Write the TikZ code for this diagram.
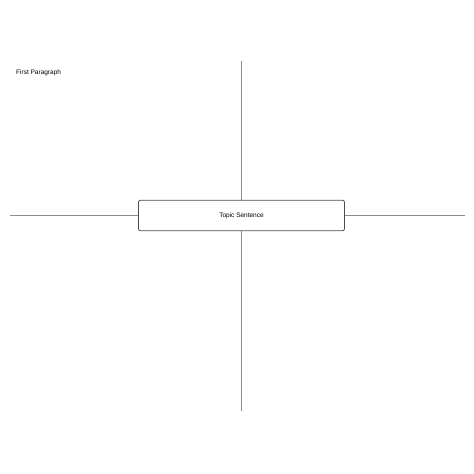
\documentclass[tikz,border=0pt]{standalone}
\usepackage{fontspec}
\setmainfont{Liberation Sans}
\usetikzlibrary{positioning}
\tikzstyle{topicbox} = [rectangle, rounded corners=2pt, minimum width=206pt, minimum height=30.5pt, text centered, draw=black!70, line width=0.8pt, font=\fontsize{6.5}{8}\selectfont]
\tikzstyle{label} = [inner sep=0pt, anchor=west, font=\fontsize{6.5}{8}\selectfont]
\tikzstyle{arm} = [draw=black!45, line width=0.9pt]

\begin{document}
\begin{tikzpicture}[x=1pt, y=-1pt]
\useasboundingbox (0,0) rectangle (474,474);
\node (title) [label] at (16,73) {First Paragraph};
\node (topic) [topicbox] at (241.5,215.5) {\raisebox{-1pt}{Topic Sentence}};
\coordinate (up) at (241.5,61);
\coordinate (down) at (241.5,411);
\coordinate (lft) at (10,215.5);
\coordinate (rgt) at (465,215.5);

\draw [arm] (up) -- (topic.north);
\draw [arm] (topic.south) -- (down);
\draw [arm] (lft) -- (topic.west);
\draw [arm] (topic.east) -- (rgt);
\end{tikzpicture}
\end{document}
